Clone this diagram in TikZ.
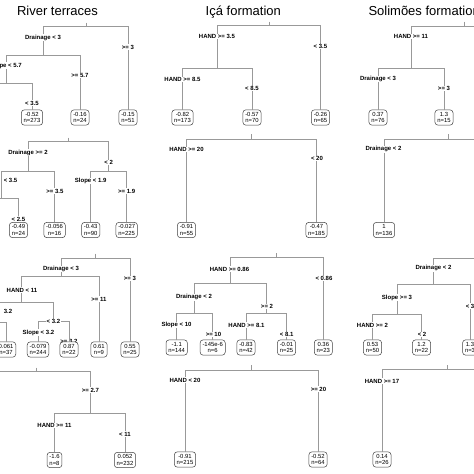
\documentclass[tikz,border=0pt]{standalone}
\usepackage{fontspec}
\setmainfont{Liberation Sans}

\begin{document}
\begin{tikzpicture}[x=1pt,y=-1pt,
  br/.style={draw=gray!80,line width=0.8pt},
  lbl/.style={fill=white,inner sep=0.6pt,font=\bfseries\fontsize{6}{7}\selectfont},
  leaf/.style={draw=gray!50!black,fill=white,rounded corners=3pt,line width=0.5pt,
    align=center,inner xsep=2.4pt,inner ysep=2.4pt,font=\fontsize{5.9}{6.3}\selectfont},
  ttl/.style={anchor=base,inner sep=0pt,font=\fontsize{13}{15}\selectfont}]
\useasboundingbox (0,0) rectangle (474,474);
\clip (0,0) rectangle (474,474);

% titles
\node[ttl] (tA) at (57.5,15) {River terraces};
\node[ttl] (tB) at (243.3,15) {Içá formation};
\node[ttl,anchor=base west] (tC) at (368.3,15) {Solimões formation};

% ---- River terraces
\coordinate (a1t) at (86,22.5);
\coordinate (a1) at (86,26.7);
\coordinate (a1l) at (43,55.7);
\coordinate (a1ll) at (6,83);
\coordinate (a1lll) at (-20,105);
\node[leaf] (a1L1) at (32,117.5) {-0.52\\n=273};
\node[leaf] (a1L2) at (80,117.5) {-0.16\\n=24};
\node[leaf] (a1L3) at (128,117.5) {-0.15\\n=51};

\coordinate (a2t) at (68,137.5);
\coordinate (a2) at (68,141.7);
\coordinate (a2l) at (28,171);
\coordinate (a2r) at (108.7,171.7);
\coordinate (a2ll) at (1.5,198);
\coordinate (a2lll) at (-15,220);
\node[leaf] (a2L1) at (18.5,230) {-0.49\\n=24};
\node[leaf] (a2L2) at (54.6,230) {-0.056\\n=16};
\node[leaf] (a2L3) at (90.7,230) {-0.43\\n=90};
\node[leaf] (a2L4) at (126.7,230) {-0.027\\n=225};

\coordinate (a3t) at (95.7,253.5);
\coordinate (a3) at (95.7,258.3);
\coordinate (a3l) at (61,276.7);
\coordinate (a3ll) at (21.7,302.3);
\coordinate (a3lll) at (-10,322);
\coordinate (a3llll) at (-26,340);
\coordinate (a3llr) at (53.5,321.7);
\begin{scope}
\clip (55,330) rectangle (85,342);
\node[lbl] (qa3h) at (69,341.5) {>= 3.2};
\end{scope}
\node[leaf] (a3L1) at (6,349.5) {0.061\\n=37};
\node[leaf] (a3L2) at (38,349.5) {-0.079\\n=244};
\node[leaf] (a3L3) at (69,349.5) {0.87\\n=22};
\node[leaf] (a3L4) at (99,349.5) {0.61\\n=9};
\node[leaf] (a3L5) at (130,349.5) {0.55\\n=25};

\coordinate (a4t) at (36.7,367.5);
\coordinate (a4) at (36.7,371);
\coordinate (a4l) at (-17,400);
\coordinate (a4r) at (90,413.3);
\node[leaf] (a4L1) at (54.5,460) {-1.6\\n=8};
\node[leaf] (a4L2) at (125,460) {0.052\\n=232};

% ---- Ica formation
\coordinate (b1t) at (269,21.7);
\coordinate (b1) at (269,25.7);
\coordinate (b1l) at (217,68.3);
\node[leaf] (b1L1) at (182.5,117.5) {-0.82\\n=173};
\node[leaf] (b1L2) at (252,117.5) {-0.57\\n=70};
\node[leaf] (b1L3) at (320.5,117.5) {-0.26\\n=65};

\coordinate (b2t) at (251.5,134);
\coordinate (b2) at (251.5,139);
\node[leaf] (b2L1) at (186.5,230) {-0.91\\n=55};
\node[leaf] (b2L2) at (316.5,230) {-0.47\\n=185};

\coordinate (b3t) at (276.7,253.3);
\coordinate (b3) at (276.7,257.7);
\coordinate (b3l) at (230.1,283.3);
\coordinate (b3ll) at (194.7,313.3);
\coordinate (b3lr) at (266.2,313.3);
\node[leaf] (b3L1) at (176.7,347.5) {-1.1\\n=144};
\node[leaf] (b3L2) at (212.7,347.5) {-145e-6\\n=6};
\node[leaf] (b3L3) at (246,347.5) {-0.83\\n=42};
\node[leaf] (b3L4) at (286.5,347.5) {-0.01\\n=25};
\node[leaf] (b3L5) at (323.3,347.5) {0.36\\n=23};

\coordinate (b4t) at (251.7,365);
\coordinate (b4) at (251.7,370);
\node[leaf] (b4L1) at (185,459.5) {-0.91\\n=215};
\node[leaf] (b4L2) at (318,459.5) {-0.52\\n=64};

% ---- Solimoes formation
\coordinate (c1t) at (464,21.7);
\coordinate (c1) at (464,26);
\coordinate (c1l) at (411,68.3);
\coordinate (c1r) at (518,100);
\node[leaf] (c1L1) at (378,117.5) {0.37\\n=76};
\node[leaf] (c1L2) at (444,117.5) {1.3\\n=15};

\coordinate (c2t) at (448.3,134);
\coordinate (c2) at (448.3,139);
\coordinate (c2r) at (513,180);
\node[leaf] (c2L1) at (384,230) {1\\n=136};

\coordinate (c3t) at (490,254);
\coordinate (c3) at (490,258.3);
\coordinate (c3r) at (547,290);
\coordinate (c3l) at (433.3,284.3);
\coordinate (c3ll) at (397,314.3);
\node[leaf] (c3L1) at (372.5,347.5) {0.53\\n=50};
\node[leaf] (c3L2) at (421.5,347.5) {1.2\\n=22};
\node[leaf] (c3L3) at (470,347.5) {1.3\\n=3};

\coordinate (c4t) at (447.3,365);
\coordinate (c4) at (447.3,369);
\coordinate (c4r) at (513,400);
\node[leaf] (c4L1) at (382,459.5) {0.14\\n=26};

% branches
\draw[br] (a1t) -- (a1);
\draw[br] (a1) -| (a1l);
\draw[br] (a1) -| (a1L3);
\draw[br] (a1l) -| (a1ll);
\draw[br] (a1l) -| (a1L2);
\draw[br] (a1ll) -| (a1lll);
\draw[br] (a1ll) -| (a1L1);

\draw[br] (a2t) -- (a2);
\draw[br] (a2) -| (a2l);
\draw[br] (a2) -| (a2r);
\draw[br] (a2l) -| (a2ll);
\draw[br] (a2l) -| (a2L2);
\draw[br] (a2ll) -| (a2lll);
\draw[br] (a2ll) -| (a2L1);
\draw[br] (a2r) -| (a2L3);
\draw[br] (a2r) -| (a2L4);

\draw[br] (a3t) -- (a3);
\draw[br] (a3) -| (a3l);
\draw[br] (a3) -| (a3L5);
\draw[br] (a3l) -| (a3ll);
\draw[br] (a3l) -| (a3L4);
\draw[br] (a3ll) -| (a3lll);
\draw[br] (a3ll) -| (a3llr);
\draw[br] (a3lll) -| (a3llll);
\draw[br] (a3lll) -| (a3L1);
\draw[br] (a3llr) -| (a3L2);
\draw[br] (a3llr) -| (a3L3);

\draw[br] (a4t) -- (a4);
\draw[br] (a4) -| (a4l);
\draw[br] (a4) -| (a4r);
\draw[br] (a4r) -| (a4L1);
\draw[br] (a4r) -| (a4L2);

\draw[br] (b1t) -- (b1);
\draw[br] (b1) -| (b1l);
\draw[br] (b1) -| (b1L3);
\draw[br] (b1l) -| (b1L1);
\draw[br] (b1l) -| (b1L2);

\draw[br] (b2t) -- (b2);
\draw[br] (b2) -| (b2L1);
\draw[br] (b2) -| (b2L2);

\draw[br] (b3t) -- (b3);
\draw[br] (b3) -| (b3l);
\draw[br] (b3) -| (b3L5);
\draw[br] (b3l) -| (b3ll);
\draw[br] (b3l) -| (b3lr);
\draw[br] (b3ll) -| (b3L1);
\draw[br] (b3ll) -| (b3L2);
\draw[br] (b3lr) -| (b3L3);
\draw[br] (b3lr) -| (b3L4);

\draw[br] (b4t) -- (b4);
\draw[br] (b4) -| (b4L1);
\draw[br] (b4) -| (b4L2);

\draw[br] (c1t) -- (c1);
\draw[br] (c1) -| (c1l);
\draw[br] (c1) -| (c1r);
\draw[br] (c1l) -| (c1L1);
\draw[br] (c1l) -| (c1L2);

\draw[br] (c2t) -- (c2);
\draw[br] (c2) -| (c2L1);
\draw[br] (c2) -| (c2r);

\draw[br] (c3t) -- (c3);
\draw[br] (c3) -| (c3l);
\draw[br] (c3) -| (c3r);
\draw[br] (c3l) -| (c3ll);
\draw[br] (c3l) -| (c3L3);
\draw[br] (c3ll) -| (c3L1);
\draw[br] (c3ll) -| (c3L2);

\draw[br] (c4t) -- (c4);
\draw[br] (c4) -| (c4L1);
\draw[br] (c4) -| (c4r);

% split labels
\node[lbl] (qa1a) at (43,37.7) {Drainage < 3};
\node[lbl] (qa1b) at (128,47) {>= 3};
\node[lbl] (qa1c) at (6,65.7) {Slope < 5.7};
\node[lbl] (qa1d) at (80,75.7) {>= 5.7};
\node[lbl] (qa1e) at (32,103) {< 3.5};

\node[lbl] (qa2a) at (28,152.7) {Drainage >= 2};
\node[lbl] (qa2b) at (108.7,162.7) {< 2};
\node[lbl,anchor=west] (qa2c) at (3,180.7) {< 3.5};
\node[lbl] (qa2d) at (55,191) {>= 3.5};
\node[lbl] (qa2e) at (18.5,219) {< 2.5};
\node[lbl] (qa2f) at (90.7,181) {Slope < 1.9};
\node[lbl] (qa2g) at (126.7,191) {>= 1.9};

\node[lbl] (qa3a) at (61,269) {Drainage < 3};
\node[lbl] (qa3b) at (130,278.3) {>= 3};
\node[lbl] (qa3c) at (22,290) {HAND < 11};
\node[lbl] (qa3d) at (99,299) {>= 11};
\node[lbl,anchor=west] (qa3e) at (3,311.7) {3.2};
\node[lbl] (qa3f) at (53.5,321.5) {< 3.2};
\node[lbl] (qa3g) at (38.5,332.7) {Slope < 3.2};

\node[lbl] (qa4a) at (90.5,390) {>= 2.7};
\node[lbl] (qa4b) at (54.5,425.7) {HAND >= 11};
\node[lbl] (qa4c) at (125,434) {< 11};

\node[lbl] (qb1a) at (217,36.7) {HAND >= 3.5};
\node[lbl] (qb1b) at (320.5,46.7) {< 3.5};
\node[lbl] (qb1c) at (182.5,79.3) {HAND >= 8.5};
\node[lbl] (qb1d) at (252,88.3) {< 8.5};

\node[lbl] (qb2a) at (186.5,149.3) {HAND >= 20};
\node[lbl] (qb2b) at (317,158.3) {< 20};

\node[lbl] (qb3a) at (229.5,269) {HAND >= 0.86};
\node[lbl] (qb3b) at (324,278.3) {< 0.86};
\node[lbl] (qb3c) at (194,297.3) {Drainage < 2};
\node[lbl] (qb3d) at (267,306.7) {>= 2};
\node[lbl] (qb3e) at (176.5,325) {Slope < 10};
\node[lbl] (qb3f) at (213.5,334.3) {>= 10};
\node[lbl] (qb3g) at (246.5,325) {HAND >= 8.1};
\node[lbl] (qb3h) at (286.7,334.3) {< 8.1};

\node[lbl] (qb4a) at (185,380) {HAND < 20};
\node[lbl] (qb4b) at (318.5,389) {>= 20};

\node[lbl] (qc1a) at (411,36.7) {HAND >= 11};
\node[lbl] (qc1b) at (378,79) {Drainage < 3};
\node[lbl] (qc1c) at (444,88.3) {>= 3};

\node[lbl] (qc2a) at (383.5,149.3) {Drainage < 2};

\node[lbl] (qc3a) at (433.5,268.3) {Drainage < 2};
\node[lbl] (qc3b) at (397,297.7) {Slope >= 3};
\node[lbl] (qc3c) at (470,306) {< 3};
\node[lbl] (qc3d) at (372.5,325) {HAND >= 2};
\node[lbl] (qc3e) at (422,334.3) {< 2};

\node[lbl] (qc4a) at (382,381) {HAND >= 17};
\end{tikzpicture}
\end{document}
